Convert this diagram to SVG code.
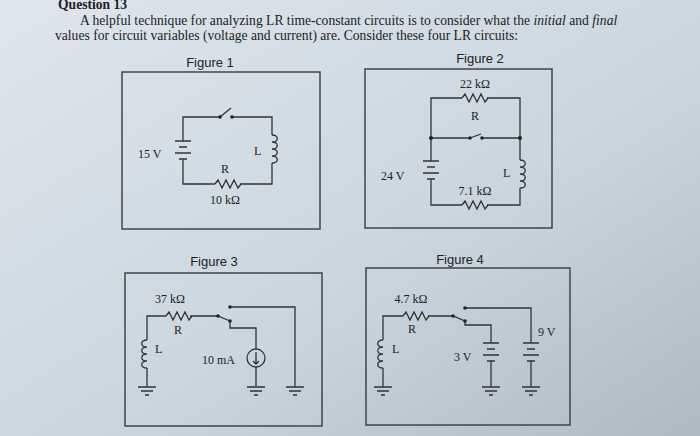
<svg xmlns="http://www.w3.org/2000/svg" width="700" height="436" viewBox="0 0 700 436">
<defs>
<linearGradient id="bg" x1="0" y1="0" x2="1" y2="1"><stop offset="0" stop-color="#dfe6ec"/><stop offset="0.6" stop-color="#c9d5de"/><stop offset="1" stop-color="#aeb9c2"/></linearGradient>
<g id="res"><path d="M0 0 l3 -4 l4 8 l4 -8 l4 8 l4 -8 l4 8 l3 -4" fill="none"/></g>
<g id="ind"><path d="M0 0 c7 0 7 7 0 7 c7 0 7 7 0 7 c7 0 7 7 0 7 c7 0 7 7 0 7" fill="none"/></g>
<g id="indl"><path d="M0 0 c-7 0 -7 7 0 7 c-7 0 -7 7 0 7 c-7 0 -7 7 0 7 c-7 0 -7 7 0 7" fill="none"/></g>
<g id="gnd"><path d="M-9 0 h18 M-6 4 h12 M-2 8 h4" fill="none"/></g>
<g id="bat"><path d="M-8 0 h16 M-4 6 h8 M-8 12 h16 M-4 18 h8" fill="none"/></g>
</defs>
<style>
.w{stroke:#333;stroke-width:1.3;fill:none}
.box{stroke:#444;stroke-width:1.5;fill:none}
.s{font-family:"Liberation Serif",serif;font-size:12px;fill:#222}
.h{font-family:"Liberation Serif",serif;font-size:13.6px;fill:#222}
.t{font-family:"Liberation Sans",sans-serif;font-size:13px;fill:#222;text-anchor:middle}
.m{text-anchor:middle}
.d{fill:#222}
</style>
<rect width="700" height="436" fill="url(#bg)"/>
<text class="h" x="58" y="9" font-weight="bold">Question 13</text>
<text class="h" x="80" y="25">A helpful technique for analyzing LR time-constant circuits is to consider what the <tspan font-style="italic">initial</tspan> and <tspan font-style="italic">final</tspan></text>
<text class="h" x="55" y="40">values for circuit variables (voltage and current) are. Consider these four LR circuits:</text>

<g id="fig1">
<text class="t" x="210" y="67">Figure 1</text>
<rect class="box" x="122" y="72" width="198" height="157"/>
<g class="w">
<path d="M183 141 V117 H220 M232 117 H272 V135 M272 163 V184 H240 M215 184 H183 V159"/>
<path d="M220 117 L231 108"/>
<use href="#res" x="215" y="184"/>
<use href="#ind" x="272" y="135"/>
<use href="#bat" x="183" y="141"/>
</g>
<circle class="d" cx="220" cy="117" r="1.8"/><circle class="d" cx="232" cy="117" r="1.8"/>
<text class="s" x="138" y="158">15 V</text>
<text class="s m" x="225" y="173">R</text>
<text class="s m" x="225" y="204">10 kΩ</text>
<text class="s" x="254" y="155">L</text>
</g>

<g id="fig2">
<text class="t" x="480" y="63">Figure 2</text>
<rect class="box" x="365" y="69" width="187" height="159"/>
<g class="w">
<path d="M431 161 V98 H462 M487 98 H520 V160 M520 188 V205 H487 M462 205 H431 V179"/>
<path d="M431 138 H470 M482 138 H520 M470 138 L481 134"/>
<use href="#res" x="462" y="98"/>
<use href="#res" x="462" y="205"/>
<use href="#ind" x="520" y="160"/>
<use href="#bat" x="431" y="161"/>
</g>
<circle class="d" cx="431" cy="138" r="2"/><circle class="d" cx="520" cy="138" r="2"/>
<circle class="d" cx="470" cy="138" r="1.8"/><circle class="d" cx="482" cy="138" r="1.8"/>
<text class="s m" x="475" y="88">22 kΩ</text>
<text class="s m" x="475" y="120">R</text>
<text class="s" x="381" y="180">24 V</text>
<text class="s m" x="475" y="195">7.1 kΩ</text>
<text class="s" x="503" y="177">L</text>
</g>

<g id="fig3">
<text class="t" x="214" y="266">Figure 3</text>
<rect class="box" x="125" y="273" width="197" height="153"/>
<g class="w">
<path d="M147 340 V316 H166 M190 316 H218 L230 321 M230 321 V328 H256 V349 M256 367 V387 M230 307 H295 V387"/>
<use href="#res" x="166" y="316"/>
<use href="#indl" x="147" y="340"/>
<path d="M147 368 V387"/>
<circle cx="256" cy="358" r="9"/>
<path d="M256 352 V364 M253 361 L256 364 L259 361"/>
<use href="#gnd" x="147" y="387"/>
<use href="#gnd" x="256" y="387"/>
<use href="#gnd" x="295" y="387"/>
</g>
<circle class="d" cx="218" cy="316" r="1.8"/><circle class="d" cx="230" cy="307" r="1.8"/><circle class="d" cx="230" cy="321" r="1.8"/>
<text class="s m" x="170" y="303">37 kΩ</text>
<text class="s m" x="178" y="334">R</text>
<text class="s" x="155" y="353">L</text>
<text class="s" x="202" y="364">10 mA</text>
</g>

<g id="fig4">
<text class="t" x="460" y="264">Figure 4</text>
<rect class="box" x="366" y="268" width="204" height="157"/>
<g class="w">
<path d="M383 340 V316 H403 M428 316 H453 L465 321 M465 321 V325 H491 V343 M465 308 H531 V343"/>
<use href="#res" x="403" y="316"/>
<use href="#indl" x="383" y="340"/>
<path d="M383 368 V387 M491 361 V387 M531 361 V387"/>
<use href="#bat" x="491" y="343"/>
<use href="#bat" x="531" y="343"/>
<use href="#gnd" x="383" y="387"/>
<use href="#gnd" x="491" y="387"/>
<use href="#gnd" x="531" y="387"/>
</g>
<circle class="d" cx="453" cy="316" r="1.8"/><circle class="d" cx="465" cy="308" r="1.8"/><circle class="d" cx="465" cy="321" r="1.8"/>
<text class="s m" x="411" y="303">4.7 kΩ</text>
<text class="s m" x="412" y="333">R</text>
<text class="s" x="392" y="353">L</text>
<text class="s" x="454" y="361">3 V</text>
<text class="s" x="538" y="336">9 V</text>
</g>
</svg>
